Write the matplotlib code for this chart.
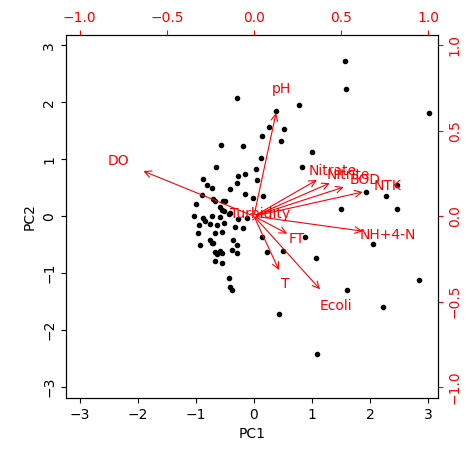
import matplotlib.pyplot as plt

# PC scores
pc1 = [1.57, 1.59, 3.02, -0.29, 0.78, 0.38, 0.26, 0.52, 0.14, 0.47, -0.57, -0.19, 0.12, 1.00,
       0.83, -0.66, 0.03, -0.28, -0.16, -0.88, 0.05, -0.29, -0.81, -0.72, -0.41, -0.90, -0.16,
       0.16, -0.71, -0.02, 1.93, 2.28, 2.47, -0.67, -0.53, -0.50, -1.00, -0.59, -0.55, -0.52,
       -0.41, 1.50, 2.47, -1.03, -0.88, -0.72, -0.59, -0.43, -0.28, -0.12, -0.95, -0.84, -0.76,
       -0.64, -0.52, -0.19, -0.33, -0.97, -0.67, -0.55, 0.14, 0.88, -0.76, -0.72, -0.36, -0.93,
       -0.71, 2.05, -0.29, -0.67, -0.59, -0.38, -0.29, 0.22, 0.50, -0.64, -0.55, -0.67, -0.55,
       1.07, -0.43, -0.41, -0.38, 2.84, 1.60, 2.22, 0.43, 1.09]
pc2 = [2.72, 2.23, 1.82, 2.07, 1.96, 1.84, 1.56, 1.53, 1.40, 1.32, 1.25, 1.23, 1.02, 1.12,
       0.86, 0.86, 0.82, 0.70, 0.74, 0.65, 0.63, 0.58, 0.54, 0.49, 0.47, 0.37, 0.39,
       0.35, 0.30, 0.32, 0.42, 0.35, 0.54, 0.26, 0.26, 0.26, 0.21, 0.16, 0.11, 0.09,
       0.05, 0.12, 0.12, 0.00, -0.04, 0.00, -0.02, 0.04, -0.05, -0.04, -0.16, -0.09, -0.14,
       -0.16, -0.12, -0.21, -0.19, -0.30, -0.30, -0.28, -0.37, -0.37, -0.42, -0.47, -0.42, -0.51,
       -0.47, -0.49, -0.51, -0.63, -0.61, -0.60, -0.65, -0.63, -0.61, -0.67, -0.65, -0.79, -0.82,
       -0.74, -1.09, -1.25, -1.30, -1.12, -1.30, -1.60, -1.72, -2.42]

# loadings
variables = ['pH', 'DO', 'Nitrate', 'Nitrite', 'BOD', 'NTK', 'NH+4-N', 'FT', 'T', 'Ecoli', 'Turbidity']
load1 = [0.13, -0.65, 0.375, 0.45, 0.53, 0.64, 0.64, 0.205, 0.15, 0.39, 0.03]
load2 = [0.62, 0.27, 0.22, 0.20, 0.175, 0.145, -0.09, -0.11, -0.33, -0.44, 0.01]

fig = plt.figure(figsize=(4.74, 4.68), dpi=100)
ax = fig.add_axes([0.139, 0.150, 0.785, 0.775])
ax.scatter(pc1, pc2, s=9, color='black', zorder=3)
ax.set_xlim(-3.24, 3.17)
ax.set_ylim(-3.19, 3.18)
ax.set_xticks([-3, -2, -1, 0, 1, 2, 3])
ax.set_yticks([-3, -2, -1, 0, 1, 2, 3])
ax.set_xlabel('PC1', fontsize=10)
ax.set_ylabel('PC2', fontsize=10)
for lbl in ax.get_yticklabels():
    lbl.set_rotation(90)
    lbl.set_va('center')
ax.tick_params(labelsize=10)

# secondary axes for loadings
ax2 = ax.twinx().twiny()
ax2.set_xlim(-3.24 / 3, 3.17 / 3)
ax2.set_ylim(-3.19 / 3, 3.18 / 3)
ax2.set_xticks([-1.0, -0.5, 0.0, 0.5, 1.0])
ax2.set_yticks([-1.0, -0.5, 0.0, 0.5, 1.0])
ax2.tick_params(labelsize=10, colors='red', labelcolor='red')
for s in ax2.spines.values():
    s.set_visible(False)
ax.twinx  # right axis via ax2's parent
par = ax2.figure.axes[1]
par.set_ylim(-3.19 / 3, 3.18 / 3)
par.set_yticks([-1.0, -0.5, 0.0, 0.5, 1.0])
par.tick_params(labelsize=10, colors='red', labelcolor='red')
for lbl in par.get_yticklabels():
    lbl.set_rotation(90)
    lbl.set_va('center')

for v, a, b in zip(variables, load1, load2):
    ax2.annotate('', xy=(a, b), xytext=(0, 0),
                 arrowprops=dict(arrowstyle='->', color='red', lw=0.8, mutation_scale=12))
    ax2.text(a * 1.2, b * 1.2, v, color='red', fontsize=10, ha='center', va='center')

fig.savefig('out.png', dpi=100)
